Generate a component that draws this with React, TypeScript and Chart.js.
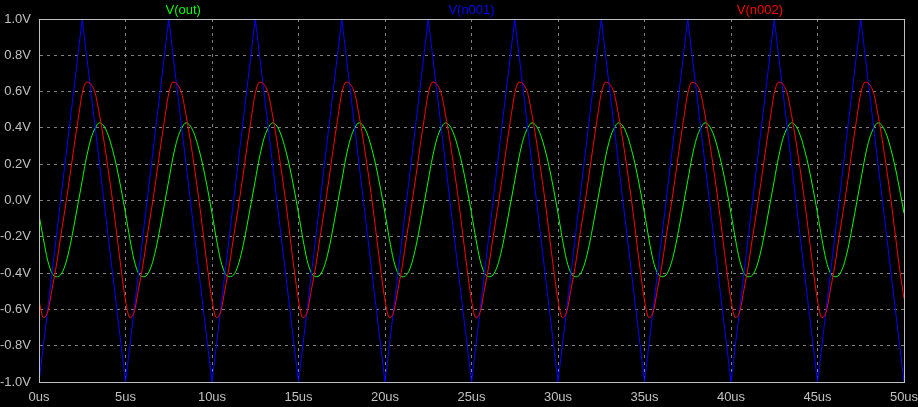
import React, { useEffect, useRef } from "react";
import { Chart, registerables } from "chart.js";

Chart.register(...registerables);

// Series names / colours (legend at top)
const seriesNames = ["V(out)", "V(n001)", "V(n002)"];
const seriesColors = ["#00ff00", "#0000ff", "#ff0000"];

// Axis ticks
const xTickValues = [0, 5, 10, 15, 20, 25, 30, 35, 40, 45, 50];
const yTickValues = [-1.0, -0.8, -0.6, -0.4, -0.2, 0.0, 0.2, 0.4, 0.6, 0.8, 1.0];

// Triangle source V(n001): vertices (time in us, volts)
const blueTimes = [0, 2.5, 5, 7.5, 10, 12.5, 15, 17.5, 20, 22.5, 25, 27.5, 30, 32.5, 35, 37.5, 40, 42.5, 45, 47.5, 50];
const blueValues = [-1, 1, -1, 1, -1, 1, -1, 1, -1, 1, -1, 1, -1, 1, -1, 1, -1, 1, -1, 1, -1];

// Sample times (us) for V(n002) and V(out)
const sampleTimes = [
  0, 0.25, 0.5, 0.75, 1, 1.25, 1.5, 1.75, 2, 2.25, 2.5, 2.75, 3, 3.25, 3.5, 3.75, 4, 4.25, 4.5, 4.75,
  5, 5.25, 5.5, 5.75, 6, 6.25, 6.5, 6.75, 7, 7.25, 7.5, 7.75, 8, 8.25, 8.5, 8.75, 9, 9.25, 9.5, 9.75,
  10, 10.25, 10.5, 10.75, 11, 11.25, 11.5, 11.75, 12, 12.25, 12.5, 12.75, 13, 13.25, 13.5, 13.75, 14, 14.25, 14.5, 14.75,
  15, 15.25, 15.5, 15.75, 16, 16.25, 16.5, 16.75, 17, 17.25, 17.5, 17.75, 18, 18.25, 18.5, 18.75, 19, 19.25, 19.5, 19.75,
  20, 20.25, 20.5, 20.75, 21, 21.25, 21.5, 21.75, 22, 22.25, 22.5, 22.75, 23, 23.25, 23.5, 23.75, 24, 24.25, 24.5, 24.75,
  25, 25.25, 25.5, 25.75, 26, 26.25, 26.5, 26.75, 27, 27.25, 27.5, 27.75, 28, 28.25, 28.5, 28.75, 29, 29.25, 29.5, 29.75,
  30, 30.25, 30.5, 30.75, 31, 31.25, 31.5, 31.75, 32, 32.25, 32.5, 32.75, 33, 33.25, 33.5, 33.75, 34, 34.25, 34.5, 34.75,
  35, 35.25, 35.5, 35.75, 36, 36.25, 36.5, 36.75, 37, 37.25, 37.5, 37.75, 38, 38.25, 38.5, 38.75, 39, 39.25, 39.5, 39.75,
  40, 40.25, 40.5, 40.75, 41, 41.25, 41.5, 41.75, 42, 42.25, 42.5, 42.75, 43, 43.25, 43.5, 43.75, 44, 44.25, 44.5, 44.75,
  45, 45.25, 45.5, 45.75, 46, 46.25, 46.5, 46.75, 47, 47.25, 47.5, 47.75, 48, 48.25, 48.5, 48.75, 49, 49.25, 49.5, 49.75,
  50,
];

// V(n002) red
const redValues = [
  -0.55, -0.645, -0.615, -0.49, -0.36, -0.2, -0.05, 0.11, 0.28, 0.44, 0.59, 0.652, 0.64, 0.59, 0.47, 0.33, 0.17, 0.0, -0.19, -0.38,
  -0.55, -0.645, -0.615, -0.49, -0.36, -0.2, -0.05, 0.11, 0.28, 0.44, 0.59, 0.652, 0.64, 0.59, 0.47, 0.33, 0.17, 0.0, -0.19, -0.38,
  -0.55, -0.645, -0.615, -0.49, -0.36, -0.2, -0.05, 0.11, 0.28, 0.44, 0.59, 0.652, 0.64, 0.59, 0.47, 0.33, 0.17, 0.0, -0.19, -0.38,
  -0.55, -0.645, -0.615, -0.49, -0.36, -0.2, -0.05, 0.11, 0.28, 0.44, 0.59, 0.652, 0.64, 0.59, 0.47, 0.33, 0.17, 0.0, -0.19, -0.38,
  -0.55, -0.645, -0.615, -0.49, -0.36, -0.2, -0.05, 0.11, 0.28, 0.44, 0.59, 0.652, 0.64, 0.59, 0.47, 0.33, 0.17, 0.0, -0.19, -0.38,
  -0.55, -0.645, -0.615, -0.49, -0.36, -0.2, -0.05, 0.11, 0.28, 0.44, 0.59, 0.652, 0.64, 0.59, 0.47, 0.33, 0.17, 0.0, -0.19, -0.38,
  -0.55, -0.645, -0.615, -0.49, -0.36, -0.2, -0.05, 0.11, 0.28, 0.44, 0.59, 0.652, 0.64, 0.59, 0.47, 0.33, 0.17, 0.0, -0.19, -0.38,
  -0.55, -0.645, -0.615, -0.49, -0.36, -0.2, -0.05, 0.11, 0.28, 0.44, 0.59, 0.652, 0.64, 0.59, 0.47, 0.33, 0.17, 0.0, -0.19, -0.38,
  -0.55, -0.645, -0.615, -0.49, -0.36, -0.2, -0.05, 0.11, 0.28, 0.44, 0.59, 0.652, 0.64, 0.59, 0.47, 0.33, 0.17, 0.0, -0.19, -0.38,
  -0.55, -0.645, -0.615, -0.49, -0.36, -0.2, -0.05, 0.11, 0.28, 0.44, 0.59, 0.652, 0.64, 0.59, 0.47, 0.33, 0.17, 0.0, -0.19, -0.38,
  -0.54,
];

// V(out) green
const greenValues = [
  -0.08, -0.21, -0.33, -0.4, -0.42, -0.41, -0.36, -0.27, -0.15, -0.02, 0.11, 0.24, 0.34, 0.4, 0.428, 0.41, 0.36, 0.28, 0.18, 0.06,
  -0.07, -0.21, -0.33, -0.4, -0.42, -0.41, -0.36, -0.27, -0.15, -0.02, 0.11, 0.24, 0.34, 0.4, 0.428, 0.41, 0.36, 0.28, 0.18, 0.06,
  -0.07, -0.21, -0.33, -0.4, -0.42, -0.41, -0.36, -0.27, -0.15, -0.02, 0.11, 0.24, 0.34, 0.4, 0.428, 0.41, 0.36, 0.28, 0.18, 0.06,
  -0.07, -0.21, -0.33, -0.4, -0.42, -0.41, -0.36, -0.27, -0.15, -0.02, 0.11, 0.24, 0.34, 0.4, 0.428, 0.41, 0.36, 0.28, 0.18, 0.06,
  -0.07, -0.21, -0.33, -0.4, -0.42, -0.41, -0.36, -0.27, -0.15, -0.02, 0.11, 0.24, 0.34, 0.4, 0.428, 0.41, 0.36, 0.28, 0.18, 0.06,
  -0.07, -0.21, -0.33, -0.4, -0.42, -0.41, -0.36, -0.27, -0.15, -0.02, 0.11, 0.24, 0.34, 0.4, 0.428, 0.41, 0.36, 0.28, 0.18, 0.06,
  -0.07, -0.21, -0.33, -0.4, -0.42, -0.41, -0.36, -0.27, -0.15, -0.02, 0.11, 0.24, 0.34, 0.4, 0.428, 0.41, 0.36, 0.28, 0.18, 0.06,
  -0.07, -0.21, -0.33, -0.4, -0.42, -0.41, -0.36, -0.27, -0.15, -0.02, 0.11, 0.24, 0.34, 0.4, 0.428, 0.41, 0.36, 0.28, 0.18, 0.06,
  -0.07, -0.21, -0.33, -0.4, -0.42, -0.41, -0.36, -0.27, -0.15, -0.02, 0.11, 0.24, 0.34, 0.4, 0.428, 0.41, 0.36, 0.28, 0.18, 0.06,
  -0.07, -0.21, -0.33, -0.4, -0.42, -0.41, -0.36, -0.27, -0.15, -0.02, 0.11, 0.24, 0.34, 0.4, 0.428, 0.41, 0.36, 0.28, 0.18, 0.06,
  -0.07,
];

const FONT = '"Liberation Sans", Arial, sans-serif';
const AXIS_TEXT = "#c0c0c0";
const GRID = "#808080";
const FRAME = "#c0c0c0";

const zip = (xs: number[], ys: number[]) => xs.map((x, i) => ({ x, y: ys[i] }));

const topLabelsPlugin = {
  id: "topLabels",
  afterDraw(chart: any) {
    const { ctx, chartArea } = chart;
    const { left, right, top, bottom } = chartArea;
    ctx.save();
    // frame
    ctx.strokeStyle = FRAME;
    ctx.lineWidth = 1;
    ctx.setLineDash([]);
    ctx.strokeRect(Math.round(left) + 0.5, Math.round(top) + 0.5, Math.round(right - left), Math.round(bottom - top));
    // series titles
    ctx.font = `13px ${FONT}`;
    ctx.textAlign = "center";
    ctx.textBaseline = "alphabetic";
    const w = right - left;
    seriesNames.forEach((name, i) => {
      ctx.fillStyle = seriesColors[i];
      ctx.fillText(name, left + (w * (2 * i + 1)) / 6, 13.5);
    });
    ctx.restore();
  },
};

export default function App() {
  const canvasRef = useRef<HTMLCanvasElement | null>(null);

  useEffect(() => {
    const canvas = canvasRef.current;
    if (!canvas) return;
    const chart = new Chart(canvas, {
      type: "line",
      data: {
        datasets: [
          {
            label: seriesNames[2],
            data: zip(sampleTimes, redValues),
            borderColor: seriesColors[2],
            borderWidth: 1,
            pointRadius: 0,
            cubicInterpolationMode: "monotone",
            order: 0,
          },
          {
            label: seriesNames[1],
            data: zip(blueTimes, blueValues),
            borderColor: seriesColors[1],
            borderWidth: 1,
            pointRadius: 0,
            tension: 0,
            order: 1,
          },
          {
            label: seriesNames[0],
            data: zip(sampleTimes, greenValues),
            borderColor: seriesColors[0],
            borderWidth: 1,
            pointRadius: 0,
            cubicInterpolationMode: "monotone",
            order: 2,
          },
        ],
      },
      options: {
        responsive: false,
        animation: false,
        devicePixelRatio: 1,
        events: [],
        layout: { padding: { top: 19, right: 14, left: 0, bottom: 0 } },
        plugins: {
          legend: { display: false },
          tooltip: { enabled: false },
          title: { display: false },
        },
        scales: {
          x: {
            type: "linear",
            min: 0,
            max: 50,
            afterBuildTicks: (s: any) => {
              s.ticks = xTickValues.map((v) => ({ value: v }));
            },
            afterFit: (s: any) => {
              s.height = 25;
              s.paddingLeft = 0;
              s.paddingRight = 0;
            },
            ticks: {
              color: AXIS_TEXT,
              font: { family: FONT, size: 13 },
              padding: 8,
              maxRotation: 0,
              autoSkip: false,
              callback: (v: any) => `${v}us`,
            },
            grid: { color: GRID, drawTicks: false, lineWidth: 1 },
            border: { display: true, color: FRAME, dash: [3, 4] },
          },
          y: {
            type: "linear",
            min: -1,
            max: 1,
            afterBuildTicks: (s: any) => {
              s.ticks = yTickValues.map((v) => ({ value: v }));
            },
            afterFit: (s: any) => {
              s.width = 39;
              s.paddingTop = 0;
              s.paddingBottom = 0;
            },
            ticks: {
              color: AXIS_TEXT,
              font: { family: FONT, size: 13 },
              padding: 8,
              autoSkip: false,
              callback: (v: any) => {
                const n = Number(v);
                const t = Math.abs(n) < 1e-9 ? "0.0" : n.toFixed(1);
                return `${t}V`;
              },
            },
            grid: { color: GRID, drawTicks: false, lineWidth: 1 },
            border: { display: true, color: FRAME, dash: [3, 4] },
          },
        },
      },
      plugins: [topLabelsPlugin],
    } as any);
    return () => chart.destroy();
  }, []);

  return (
    <div style={{ position: "fixed", left: 0, top: 0, width: 918, height: 407, background: "#000" }}>
      <canvas ref={canvasRef} width={918} height={407} style={{ display: "block" }} />
    </div>
  );
}
